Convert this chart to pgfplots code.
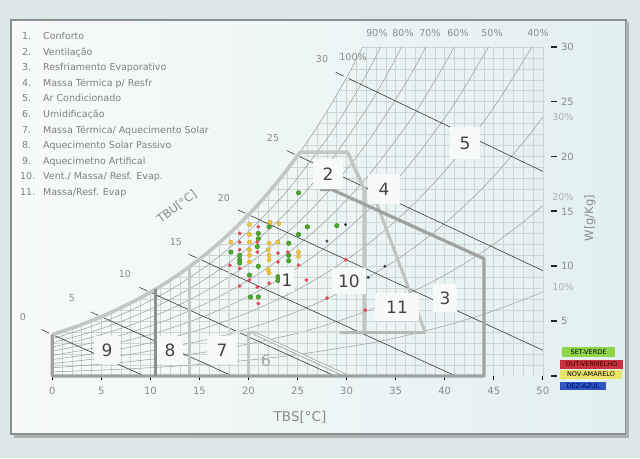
\documentclass[border=0pt]{standalone}
\usepackage{pgfplots}
\pgfplotsset{compat=1.18}
\usepackage{graphicx}
\usepackage{fontspec}
\setmainfont{DejaVu Sans}
\definecolor{outc}{HTML}{DCE7E7}
\definecolor{paperL}{HTML}{F8FAFA}
\definecolor{paperR}{HTML}{E2F0F0}
\definecolor{framec}{HTML}{8A8F8F}
\definecolor{gridc}{HTML}{D2D4D4}
\definecolor{rhc}{HTML}{9A9C9C}
\definecolor{wbc}{HTML}{3A3A3A}
\definecolor{tickc}{HTML}{8A8C8C}
\definecolor{txtc}{HTML}{7E8080}
\definecolor{zonec}{HTML}{444444}
\definecolor{boxc}{HTML}{F8FAFA}
\definecolor{thickA}{HTML}{C4C6C6}
\definecolor{thickB}{HTML}{A0A2A2}
\definecolor{thickC}{HTML}{8E9090}
\definecolor{thickD}{HTML}{B6B8B8}
\definecolor{faintc}{HTML}{D8DADA}
\definecolor{dotG}{HTML}{4EA82E}
\definecolor{dotY}{HTML}{F2C23A}
\definecolor{dotR}{HTML}{E44A5A}
\definecolor{dotD}{HTML}{3B3B55}
\definecolor{legG}{HTML}{8FD64A}
\definecolor{legR}{HTML}{C8323C}
\definecolor{legY}{HTML}{EAE46A}
\definecolor{legB}{HTML}{2F56C0}
\begin{document}
\begin{tikzpicture}
% paper background (pixel coordinates)
\begin{scope}[x=1pt,y=-1pt,shift={(-52.3pt,376pt)}]
\fill[outc] (0,0) rectangle (640,458);
\shade[left color=paperL,right color=paperR] (11,20) rectangle (626,434);
\draw[framec,line width=1.4pt] (11,20) rectangle (626,434);
\draw[framec!70,line width=3pt] (627,22) -- (627,436) -- (14,436);
\end{scope}
\begin{axis}[
  at={(0pt,0pt)}, anchor=south west,
  x=9.81pt, y=10.97pt,
  xmin=0, xmax=50, ymin=0, ymax=30,
  enlargelimits=false, clip=false,
  axis line style={draw=none},
  xtick={0,5,...,50}, ytick={0,5,...,30},
  xtick pos=bottom, ytick pos=right, yticklabel pos=right,
  tick align=outside, major tick length=4pt,
  xtick style={black, line width=1.1pt},
  ytick style={draw=none},
  tick label style={font=\fontsize{10}{12}\selectfont, text=tickc},
  xticklabel style={yshift=-4pt},
  /pgf/number format/assume math mode=true,
  yticklabel={\textcolor{black!85}{\rule[3pt]{6pt}{1.6pt}}\hspace{4pt}\pgfmathprintnumber{\tick}},
  yticklabel style={anchor=west, inner sep=0pt, xshift=4pt},
]
% grid under the saturation curve
\addplot[gridc, line width=0.6pt, unbounded coords=jump] coordinates {
(0,0)(0,3.775)(0,nan) (1,0)(1,4.060)(1,nan) (2,0)(2,4.364)(2,nan) (3,0)(3,4.689)(3,nan)
(4,0)(4,5.034)(4,nan) (5,0)(5,5.403)(5,nan) (6,0)(6,5.795)(6,nan) (7,0)(7,6.213)(7,nan)
(8,0)(8,6.657)(8,nan) (9,0)(9,7.128)(9,nan) (10,0)(10,7.632)(10,nan) (11,0)(11,8.162)(11,nan)
(12,0)(12,8.732)(12,nan) (13,0)(13,9.330)(13,nan) (14,0)(14,9.973)(14,nan) (15,0)(15,10.650)(15,nan)
(16,0)(16,11.369)(16,nan) (17,0)(17,12.129)(17,nan) (18,0)(18,12.938)(18,nan) (19,0)(19,13.791)(19,nan)
(20,0)(20,14.699)(20,nan) (21,0)(21,15.655)(21,nan) (22,0)(22,16.673)(22,nan) (23,0)(23,17.745)(23,nan)
(24,0)(24,18.884)(24,nan) (25,0)(25,20.088)(25,nan) (26,0)(26,21.358)(26,nan) (27,0)(27,22.696)(27,nan)
(28,0)(28,24.122)(28,nan) (29,0)(29,25.606)(29,nan) (30,0)(30,27.209)(30,nan) (31,0)(31,28.88)(31,nan)
(32,0)(32,30)(32,nan) (33,0)(33,30)(33,nan) (34,0)(34,30)(34,nan) (35,0)(35,30)(35,nan)
(36,0)(36,30)(36,nan) (37,0)(37,30)(37,nan) (38,0)(38,30)(38,nan) (39,0)(39,30)(39,nan)
(40,0)(40,30)(40,nan) (41,0)(41,30)(41,nan) (42,0)(42,30)(42,nan) (43,0)(43,30)(43,nan)
(44,0)(44,30)(44,nan) (45,0)(45,30)(45,nan) (46,0)(46,30)(46,nan) (47,0)(47,30)(47,nan)
(48,0)(48,30)(48,nan) (49,0)(49,30)(49,nan) (50,0)(50,30)(50,nan)
(0,1)(50,1)(0,nan) (0,2)(50,2)(0,nan) (0,3)(50,3)(0,nan) (0.79,4)(50,4)(0,nan)
(3.90,5)(50,5)(0,nan) (6.49,6)(50,6)(0,nan) (8.73,7)(50,7)(0,nan) (10.69,8)(50,8)(0,nan)
(12.45,9)(50,9)(0,nan) (14.04,10)(50,10)(0,nan) (15.49,11)(50,11)(0,nan) (16.83,12)(50,12)(0,nan)
(18.07,13)(50,13)(0,nan) (19.23,14)(50,14)(0,nan) (20.31,15)(50,15)(0,nan) (21.34,16)(50,16)(0,nan)
(22.31,17)(50,17)(0,nan) (23.22,18)(50,18)(0,nan) (24.10,19)(50,19)(0,nan) (24.93,20)(50,20)(0,nan)
(25.72,21)(50,21)(0,nan) (26.48,22)(50,22)(0,nan) (27.21,23)(50,23)(0,nan) (27.88,24)(50,24)(0,nan)
(28.59,25)(50,25)(0,nan) (29.26,26)(50,26)(0,nan) (29.87,27)(50,27)(0,nan) (30.47,28)(50,28)(0,nan)
(31.07,29)(50,29)(0,nan) (31.63,30)(50,30)
};
% relative humidity curves
\addplot[rhc, line width=0.5pt, smooth] coordinates {(0,3.775)(2,4.364)(4,5.034)(6,5.795)(8,6.657)(10,7.632)(12,8.732)(14,9.973)(16,11.369)(18,12.938)(20,14.699)(22,16.673)(24,18.884)(26,21.358)(28,24.122)(30,27.209)(31,28.88)(31.63,30)};
\addplot[rhc, line width=0.5pt, smooth] coordinates {(0,3.395)(4,4.527)(8,5.985)(12,7.848)(16,10.214)(20,13.198)(24,16.944)(28,21.626)(30,24.382)(32,27.454)(33.49,30)};
\addplot[rhc, line width=0.5pt, smooth] coordinates {(0,3.016)(4,4.021)(8,5.314)(12,6.966)(16,9.062)(20,11.704)(24,15.016)(28,19.149)(32,24.285)(34,27.297)(35.61,30)};
\addplot[rhc, line width=0.5pt, smooth] coordinates {(0,2.637)(4,3.516)(8,4.645)(12,6.087)(16,7.915)(20,10.217)(24,13.099)(28,16.692)(32,21.146)(36,26.652)(38.08,30)};
\addplot[rhc, line width=0.5pt, smooth] coordinates {(0,2.259)(4,3.011)(8,3.977)(12,5.210)(16,6.772)(20,8.737)(24,11.195)(28,14.252)(32,18.037)(36,22.705)(38,25.427)(40,28.441)(40.98,30)};
\addplot[rhc, line width=0.5pt, smooth] coordinates {(0,1.882)(4,2.507)(8,3.311)(12,4.336)(16,5.633)(20,7.264)(24,9.301)(28,11.832)(32,14.959)(36,18.807)(40,23.522)(42,26.26)(44,29.284)(44.47,30)};
\addplot[rhc, line width=0.5pt, smooth] coordinates {(0,1.505)(4,2.004)(8,2.646)(12,3.464)(16,4.498)(20,5.798)(24,7.418)(28,9.429)(32,11.910)(36,14.955)(40,18.677)(44,23.209)(46,25.825)(48,28.706)(48.9,30)};
\addplot[rhc, line width=0.5pt, smooth] coordinates {(0,1.128)(8,1.982)(16,3.368)(20,4.338)(24,5.547)(28,7.045)(32,8.890)(36,11.149)(40,13.903)(44,17.245)(48,21.284)(50,23.611)};
\addplot[rhc, line width=0.5pt, smooth] coordinates {(0,0.751)(8,1.320)(16,2.241)(24,3.687)(28,4.679)(32,5.898)(36,7.389)(40,9.200)(44,11.392)(48,14.029)(50,15.544)};
\addplot[rhc, line width=0.5pt, smooth] coordinates {(0,0.375)(8,0.659)(16,1.119)(24,1.838)(32,2.935)(36,3.673)(40,4.566)(44,5.644)(48,6.937)(50,7.676)};
% wet-bulb lines (with the short mark beyond saturation)
\addplot[wbc, line width=0.6pt, unbounded coords=jump] coordinates {
(-1.1,4.24)(-0.3,3.90)(0,nan)(0.2,3.69)(9.385,0)(0,nan)
(3.9,5.85)(4.7,5.52)(0,nan)(5.2,5.32)(18.37,0)(0,nan)
(8.9,8.08)(9.7,7.75)(0,nan)(10.2,7.55)(28.8,0)(0,nan)
(13.9,11.10)(14.7,10.77)(0,nan)(15.2,10.57)(41.11,0)(0,nan)
(18.9,15.15)(19.7,14.82)(0,nan)(20.2,14.62)(50,2.35)(0,nan)
(23.9,20.55)(24.7,20.21)(0,nan)(25.2,20.0)(50,9.61)(0,nan)
(28.9,27.68)(29.7,27.34)(0,nan)(30.2,27.12)(50,18.65)
};
% zone boundaries
\addplot[faintc, line width=2.5pt] coordinates {(18,10.3)(18,4.0)(29.3,4.0)};
\addplot[thickA, line width=3.6pt, line join=round] coordinates {(0,3.775)(1,4.060)(2,4.364)(3,4.689)(4,5.034)(5,5.403)(6,5.795)(7,6.213)(8,6.657)(9,7.128)(10,7.632)(11,8.162)(12,8.732)(13,9.330)(14,9.973)(15,10.650)(16,11.369)(17,12.129)(18,12.938)(19,13.791)(20,14.699)(21,15.655)(22,16.673)(23,17.745)(24,18.884)(25,20.088)(25.25,20.4)(30.1,20.4)(31.8,17.0)(31.8,4.0)};
\addplot[thickA, line width=3.4pt] coordinates {(14,0)(14,9.973)};
\addplot[thickA, line width=3pt] coordinates {(20,0)(20,4.0)(20.6,4.0)};
\addplot[thickD, line width=3.6pt] coordinates {(20.6,3.9)(30.0,0)};
\addplot[white, line width=1.1pt] coordinates {(20.7,3.86)(29.9,0.05)};
\addplot[thickD, line width=3pt] coordinates {(29.3,4.0)(38.0,4.0)};
\addplot[thickD!85, line width=3pt] coordinates {(33.0,15.9)(38.0,4.0)};
\addplot[thickB, line width=3.2pt, line join=round] coordinates {(27.3,17.0)(28.5,17.0)(44.0,10.7)(44.0,0)(0,0)(0,3.775)};
\addplot[thickC, line width=3pt] coordinates {(10.5,0)(10.5,7.9)};
% data points
\addplot[only marks, mark=*, mark size=2.3pt, mark options={draw=dotG!80!black, fill=dotG}] coordinates {
(25.1,16.7)(22.1,13.6)(21.0,13.0)(26.0,13.6)(29.0,13.7)(25.1,12.9)(24.1,12.1)(21.0,12.5)
(18.2,11.3)(20.9,11.8)(19.1,11.0)(24.1,11.0)(19.1,10.6)(19.1,10.3)(24.1,10.5)(21.0,10.0)
(20.1,9.2)(23.0,9.05)(23.0,8.7)(20.2,7.2)(21.0,7.2)};
\addplot[only marks, mark=*, mark size=2.1pt, mark options={draw=dotY!85!black, fill=dotY}] coordinates {
(20.1,13.8)(22.2,14.0)(23.1,13.9)(20.1,12.9)(18.2,12.2)(20.1,12.2)(22.1,12.1)(23.0,12.2)
(20.1,11.5)(22.0,11.5)(22.1,11.0)(22.1,10.6)(25.1,11.3)(25.1,10.9)(20.1,10.4)(20.1,11.0)
(22.0,9.7)(22.1,9.4)};
\addplot[only marks, mark=*, mark size=1.7pt, mark options={draw=dotR, fill=dotR}] coordinates {
(19.1,13.0)(21.0,13.6)(19.1,12.2)(20.9,12.2)(19.1,11.5)(20.9,11.3)(23.0,11.2)(24.0,11.3)
(18.1,10.1)(23.0,10.4)(25.1,10.1)(19.1,9.8)(20.1,8.75)(22.1,8.45)(19.1,8.2)(20.9,8.1)
(21.0,6.6)(25.9,8.75)(29.9,10.6)(28.0,7.1)(31.9,6.0)};
\addplot[only marks, mark=*, mark size=1.3pt, mark options={draw=dotD, fill=dotD}] coordinates {
(29.9,13.8)(28.0,12.3)(32.2,9.0)(33.9,10.0)};
\end{axis}
% annotations (pixel coordinates)
\begin{scope}[x=1pt,y=-1pt,shift={(-52.3pt,376pt)}]
\tikzset{zb/.style={fill=boxc, inner sep=0pt, text=zonec, font=\fontsize{17}{17}\selectfont}}
\node[zb, minimum width=26pt, minimum height=28pt] at (107,350) {9};
\node[zb, minimum width=26pt, minimum height=28pt] at (170,350) {8};
\node[zb, minimum width=30pt, minimum height=28pt] at (222,350) {7};
\node[zb, minimum width=14pt, minimum height=24pt] at (287,280) {1};
\node[zb, minimum width=30pt, minimum height=30pt] at (328,174) {2};
\node[zb, minimum width=32pt, minimum height=30pt] at (384,189) {4};
\node[zb, minimum width=30pt, minimum height=32pt] at (465,143) {5};
\node[zb, minimum width=34pt, minimum height=26pt] at (349,281) {10};
\node[zb, minimum width=44pt, minimum height=28pt] at (397,307) {11};
\node[zb, minimum width=24pt, minimum height=28pt] at (445,298) {3};
\node[text=black!35, font=\fontsize{16}{16}\selectfont, inner sep=0pt] at (266,361) {6};
% wet-bulb and humidity labels
\begin{scope}[every node/.style={text=tickc, font=\fontsize{9.5}{10}\selectfont, inner sep=0pt}]
\node at (23,317) {0};
\node at (72,298) {5};
\node at (125,274) {10};
\node at (176,242) {15};
\node at (224,198) {20};
\node at (273,138) {25};
\node at (322,59) {30};
\node at (353,57) {100\%};
\node at (377,33) {90\%};
\node at (403,33) {80\%};
\node at (430,33) {70\%};
\node at (458,33) {60\%};
\node at (492,33) {50\%};
\node at (538,33) {40\%};
\node[text=tickc!70] at (563,117) {30\%};
\node[text=tickc!70] at (563,197) {20\%};
\node[text=tickc!70] at (563,287) {10\%};
\end{scope}
\node[text=tickc, font=\fontsize{13.5}{14}\selectfont, inner sep=0pt] at (300,417) {TBS[°C]};
\node[text=tickc, font=\fontsize{11.5}{12}\selectfont, inner sep=0pt, rotate=37] at (177,207) {TBU[°C]};
\node[text=tickc, font=\fontsize{11.5}{12}\selectfont, inner sep=0pt, rotate=90] at (590,218) {W[g/Kg]};
% list of zones
\begin{scope}[every node/.style={text=txtc, font=\fontsize{9.5}{10}\selectfont, inner sep=0pt, anchor=base west}]
\node at (22,39.5) {1.}; \node at (43,39.5) {Conforto};
\node at (22,55.1) {2.}; \node at (43,55.1) {Ventilação};
\node at (22,70.7) {3.}; \node at (43,70.7) {Resfriamento Evaporativo};
\node at (22,86.3) {4.}; \node at (43,86.3) {Massa Térmica p/ Resfr};
\node at (22,101.9) {5.}; \node at (43,101.9) {Ar Condicionado};
\node at (22,117.5) {6.}; \node at (43,117.5) {Umidificação};
\node at (22,133.1) {7.}; \node at (43,133.1) {Massa Térmica/ Aquecimento Solar};
\node at (22,148.7) {8.}; \node at (43,148.7) {Aquecimento Solar Passivo};
\node at (22,164.3) {9.}; \node at (43,164.3) {Aquecimetno Artifical};
\node at (20,179.9) {10.}; \node at (43,179.9) {Vent./ Massa/ Resf. Evap.};
\node at (20,195.5) {11.}; \node at (43,195.5) {Massa/Resf. Evap};
\end{scope}
% month colour key
\fill[legG] (562,347) rectangle (615,357.5);
\fill[legR] (560,360.5) rectangle (623,368.5);
\fill[legY] (560,370) rectangle (622,379);
\fill[legB] (560,382) rectangle (606,390);
\begin{scope}[every node/.style={font=\fontsize{6.5}{7}\selectfont, inner sep=0pt}]
\node[text=black] at (588.5,352.3) {SET-VERDE};
\node[text=black!80!red] at (591.5,364.6) {OUT-VERMELHO};
\node[text=black] at (591,374.6) {NOV-AMARELO};
\node[text=blue!40!black] at (583,386.2) {DEZ-AZUL};
\end{scope}
\end{scope}
\pgfresetboundingbox
\path[use as bounding box] (-52.3pt,-82pt) rectangle (587.7pt,376pt);
\end{tikzpicture}
\end{document}
